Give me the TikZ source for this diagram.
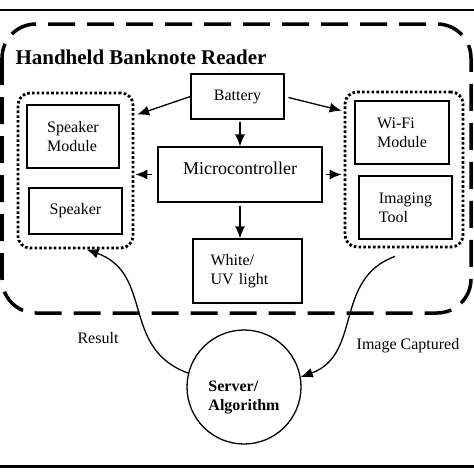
\documentclass[tikz,border=0pt]{standalone}
\usepackage{fontspec}
\setmainfont{Liberation Serif}
\usetikzlibrary{arrows.meta}
\tikzset{
  box/.style={draw, line width=1.1pt, inner sep=2pt, font=\fontsize{16}{19}\selectfont, align=left},
  group/.style={draw, line width=2.8pt, dash pattern=on 2.6pt off 2.2pt, rounded corners=12pt},
  arr/.style={line width=1.3pt, -{Latex[length=12pt,width=10pt]}},
  lbl/.style={font=\fontsize{16}{19}\selectfont}
}
\begin{document}
\begin{tikzpicture}[x=1pt,y=-1pt]
	\useasboundingbox (0,0) rectangle (474,474);
	\fill[white] (0,0) rectangle (474,474);
	% frame lines
	\draw[line width=2.5pt] (0,10) -- (474,10);
	\draw[line width=3pt] (0,466) -- (474,466);
	% reader outline
	\draw[line width=3.5pt, dash pattern=on 27pt off 12pt, rounded corners=34pt] (2,24) rectangle (471,313);
	\node[anchor=west, font=\bfseries\fontsize{21}{25}\selectfont] (title) at (12,57) {Handheld Banknote Reader};
	
	% dotted groups
	\node[group, minimum width=115pt, minimum height=155pt] (leftgrp) at (75.5,170.5) {};
	\node[group, minimum width=118pt, minimum height=155pt] (rightgrp) at (404,169.5) {};
	
	% boxes
	\node[box, minimum width=93pt, minimum height=45pt] (battery) at (237.5,96.5) {Battery};
	\node[box, minimum width=92pt, minimum height=63pt] (spkmod) at (73,136.5) {Speaker\\Module};
	\node[box, minimum width=93pt, minimum height=46pt] (speaker) at (75.5,211) {Speaker};
	\node[box, minimum width=94pt, minimum height=63pt] (wifi) at (402,132.5) {Wi-Fi\\Module};
	\node[box, minimum width=93pt, minimum height=63pt] (imaging) at (405.5,207.5) {Imaging\\Tool};
	\node[box, minimum width=164pt, minimum height=55pt, font=\fontsize{18}{21}\selectfont, text depth=12pt] (micro) at (240,174.5) {Microcontroller};
	\node[box, minimum width=109pt, minimum height=64pt, text width=74pt] (light) at (247.5,271) {White/\\UV light};
	\node[draw, circle, line width=1.3pt, minimum size=114pt, align=left, text height=50pt, text depth=4pt,
		font=\bfseries\fontsize{16}{19}\selectfont] (server) at (244,387) {Server/\\Algorithm};
	
	\node[lbl] (result) at (98,338) {Result};
	\node[lbl] (captured) at (408,346) {Image Captured};
	
	% arrows
	\draw[arr, shorten >=3pt] (battery.west) -- (leftgrp.43);
	\draw[arr, shorten <=4pt, shorten >=2pt] (battery.east) -- (rightgrp.136);
	\draw[arr, shorten <=2pt] (micro.north |- battery.south) -- (micro.north);
	\draw[arr, shorten <=5pt, shorten >=1pt] (micro.west) -- (micro.west -| leftgrp.east);
	\draw[arr, shorten <=3pt, shorten >=2pt] (micro.east) -- (micro.east -| rightgrp.west);
	\draw[arr, shorten <=3pt] (micro.south) -- (micro.south |- light.north);
	\draw[arr] (server.166) to[out=160,in=-20,looseness=1.15] (leftgrp.278);
	\draw[arr] ([xshift=-9pt,yshift=-8pt]rightgrp.south) to[out=200,in=20,looseness=1.1] (server.10);
\end{tikzpicture}
\end{document}
